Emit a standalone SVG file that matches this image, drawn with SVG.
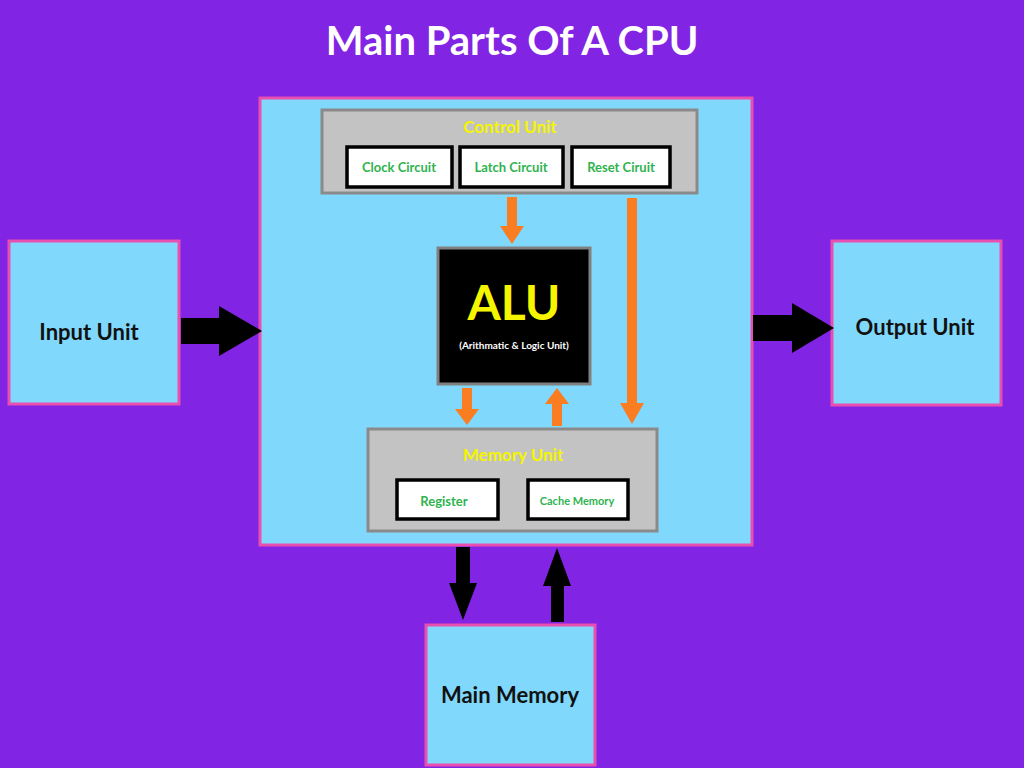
<svg xmlns="http://www.w3.org/2000/svg" width="1024" height="768" viewBox="0 0 1024 768">
<style>
text{font-family:Lato,"Open Sans",sans-serif;font-weight:bold;text-anchor:middle}
.pk{fill:#80d8fc;stroke:#e84fb0;stroke-width:3}
.gr{fill:#c3c3c3;stroke:#8a8a8a;stroke-width:3}
.wb{fill:#fff;stroke:#000;stroke-width:3.5}
.gt{fill:#2fb34e;font-size:13px}
.yt{fill:#f5f500;font-size:17px}
.bt{fill:#111;font-size:22px}
</style>
<rect width="1024" height="768" fill="#8224e3"/>
<text x="512" y="55" fill="#fff" style="font-size:40px">Main Parts Of A CPU</text>
<g id="cpu"><rect class="pk" x="260" y="98" width="492" height="447"/></g>
<g id="control-unit">
<rect class="gr" x="322" y="110" width="375" height="83"/>
<text class="yt" x="510" y="133">Control Unit</text>
<g id="clock"><rect class="wb" x="347" y="147" width="105" height="40"/><text class="gt" x="399" y="172">Clock Circuit</text></g>
<g id="latch"><rect class="wb" x="460" y="147" width="103" height="40"/><text class="gt" x="511" y="172">Latch Circuit</text></g>
<g id="reset"><rect class="wb" x="572" y="147" width="98" height="40"/><text class="gt" x="621" y="172">Reset Ciruit</text></g>
</g>
<g id="alu">
<rect x="438" y="248" width="152" height="136" fill="#000" stroke="#808080" stroke-width="3"/>
<text x="514" y="320" fill="#f5f500" style="font-size:48px">ALU</text>
<text x="514" y="349" fill="#fff" style="font-size:10px">(Arithmatic &amp; Logic Unit)</text>
</g>
<g id="memory-unit">
<rect class="gr" x="368" y="429" width="289" height="102"/>
<text class="yt" x="513" y="461">Memory Unit</text>
<g id="register"><rect class="wb" x="397" y="480" width="101" height="39"/><text class="gt" x="444" y="506">Register</text></g>
<g id="cache"><rect class="wb" x="528" y="480" width="100" height="39"/><text class="gt" x="577" y="505" style="font-size:11px">Cache Memory</text></g>
</g>
<g id="input"><rect class="pk" x="9" y="241" width="170" height="163"/><text class="bt" x="89" y="340">Input Unit</text></g>
<g id="output"><rect class="pk" x="832" y="241" width="169" height="164"/><text class="bt" x="915" y="335">Output Unit</text></g>
<g id="main-memory"><rect class="pk" x="426" y="625" width="169" height="140"/><text class="bt" x="510" y="703">Main Memory</text></g>
<g id="connectors">
<g fill="#fa7d21">
<polygon points="507,197 517,197 517,226 524,226 512,244 500,226 507,226"/>
<polygon points="462,388 472,388 472,409 479,409 467,425 455,409 462,409"/>
<polygon points="552,426 562,426 562,404 569,404 557,388 545,404 552,404"/>
<polygon points="627,198 637,198 637,403 644,403 632,424 620,403 627,403"/>
</g>
<g fill="#000">
<polygon points="181,318 219,318 219,306 262,331 219,356 219,344 181,344"/>
<polygon points="753,315 792,315 792,303 834,328 792,353 792,341 753,341"/>
<polygon points="456,547 470,547 470,583 477,583 463,620 449,583 456,583"/>
<polygon points="551,622 564,622 564,586 571,586 557,548 543,586 551,586"/>
</g>
</g>
</svg>
